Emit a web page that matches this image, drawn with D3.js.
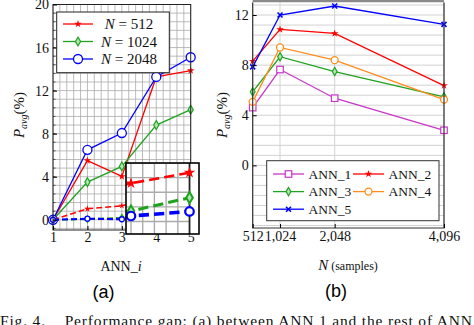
<!DOCTYPE html>
<html>
<head>
<meta charset="utf-8">
<script src="https://cdnjs.cloudflare.com/ajax/libs/d3/7.8.5/d3.min.js"></script>
<style>
  body { margin: 0; background: #fff; }
  svg { display: block; }
  .tick text { font-family: "Liberation Serif", serif; font-size: 14px; fill: #111; }
  .lbl { font-family: "Liberation Serif", serif; fill: #111; }
</style>
</head>
<body>
<div id="chart"></div>
<script>

// ---- data (a): performance gap vs ANN index
var annIdx = [1, 2, 3, 4, 5];
var gap512 = [0, 5.5, 4.03, 13.27, 13.86];
var gap1024 = [0, 3.5, 4.96, 8.8, 10.23];
var gap2048 = [0, 6.5, 8.06, 13.27, 15.1];
// dashed curves (mostly hidden under the zoom box)
var low512 = [0, 1.02, 1.3, 2.09, 2.67];
var low1024 = [0, 0.05, 0.2, 0.57, 1.3];
var low2048 = [0, 0.1, 0.05, 0.3, 0.55];
var leftYTicks = [0, 4, 8, 12, 16, 20];

// ---- data (b): performance vs number of samples
var samples = [512, 1024, 2048, 4096];
var ann1 = [4.61, 7.65, 5.36, 2.8];
var ann2 = [8.32, 10.85, 10.53, 6.37];
var ann3 = [5.87, 8.67, 7.49, 5.47];
var ann4 = [5.07, 9.41, 8.4, 5.25];
var ann5 = [7.86, 12.0, 12.72, 11.25];
var rightYTicks = [0, 4, 8, 12];

var RED = "#ff0000", GREEN = "#1fa31f", BLUE = "#0000ff", MAG = "#c837c8", ORANGE = "#ff8c1a";

var svg = d3.select("#chart").append("svg")
    .attr("width", 474)
    .attr("height", 325);

// draw one marker at (x, y)
function marker(g, type, x, y, color, s) {
    if (type == "star") {
        g.append("path")
            .attr("d", d3.symbol().type(d3.symbolStar).size(s * s * 0.28)())
            .attr("transform", "translate(" + x + "," + y + ")")
            .attr("fill", color);
    } else if (type == "circle") {
        g.append("circle").attr("cx", x).attr("cy", y).attr("r", s / 2)
            .attr("fill", "#fff").attr("stroke", color).attr("stroke-width", 1.3);
    } else if (type == "diamond") {
        var w = s * 0.32, h = s * 0.55;
        g.append("path")
            .attr("d", "M" + x + "," + (y - h) + "L" + (x + w) + "," + y + "L" + x + "," + (y + h) + "L" + (x - w) + "," + y + "Z")
            .attr("fill", "#b4e4b4").attr("stroke", color).attr("stroke-width", 1.2);
    } else if (type == "square") {
        g.append("rect").attr("x", x - s / 2).attr("y", y - s / 2).attr("width", s).attr("height", s)
            .attr("fill", "#fff").attr("stroke", color).attr("stroke-width", 1.2);
    } else if (type == "cross") {
        var d = s / 2;
        g.append("path")
            .attr("d", "M" + (x - d) + "," + (y - d) + "L" + (x + d) + "," + (y + d) + "M" + (x - d) + "," + (y + d) + "L" + (x + d) + "," + (y - d))
            .attr("stroke", color).attr("stroke-width", 1.6);
    }
}

function series(g, xs, ys, sx, sy, color, type, s, dash, lw) {
    var line = d3.line().x(function (d) { return sx(d[0]); }).y(function (d) { return sy(d[1]); });
    var pts = xs.map(function (x, i) { return [x, ys[i]]; });
    g.append("path").datum(pts)
        .attr("d", line)
        .attr("fill", "none")
        .attr("stroke", color)
        .attr("stroke-width", lw)
        .attr("stroke-dasharray", dash);
    pts.forEach(function (p) { marker(g, type, sx(p[0]), sy(p[1]), color, s); });
}

// ======================= (a) LEFT CHART
var xL = d3.scaleLinear().domain([1, 5]).range([53, 190.7]);
var yL = d3.scaleLinear().domain([-0.95, 20]).range([230, 4.5]);

var minorX = d3.range(0, 21).map(function (i) { return 1 + i * 0.2; });
var minorY = d3.range(-1, 26).map(function (i) { return i * 0.8; }).filter(function (v) { return v < 20.01; });

function leftGrid(g) {
    g.selectAll("line.gx").data(minorX).enter().append("line")
        .attr("x1", function (d) { return xL(d); }).attr("x2", function (d) { return xL(d); })
        .attr("y1", yL(-0.95)).attr("y2", yL(20))
        .attr("stroke", "#ababab").attr("stroke-width", 0.8);
    g.selectAll("line.gy").data(minorY).enter().append("line")
        .attr("x1", xL(1)).attr("x2", xL(5))
        .attr("y1", function (d) { return yL(d); }).attr("y2", function (d) { return yL(d); })
        .attr("stroke", "#ababab").attr("stroke-width", 0.8);
}

function leftDashed(g) {
    series(g, annIdx, low512, xL, yL, RED, "star", 7, "6,3", 1.5);
    series(g, annIdx, low1024, xL, yL, GREEN, "diamond", 6, "6,3", 1.8);
    series(g, annIdx, low2048, xL, yL, BLUE, "circle", 5, "6,3", 2.1);
}

var gA = svg.append("g");
leftGrid(gA);

series(gA, annIdx, gap512, xL, yL, RED, "star", 8, null, 1.3);
series(gA, annIdx, gap1024, xL, yL, GREEN, "diamond", 8, null, 1.3);
series(gA, annIdx, gap2048, xL, yL, BLUE, "circle", 9, null, 1.3);
leftDashed(gA);

// minor ticks on left axis
gA.selectAll("line.mt").data(minorY).enter().append("line")
    .attr("x1", xL(1)).attr("x2", xL(1) + 2.5)
    .attr("y1", function (d) { return yL(d); }).attr("y2", function (d) { return yL(d); })
    .attr("stroke", "#333").attr("stroke-width", 0.8);

gA.append("rect")
    .attr("x", xL(1)).attr("y", yL(20))
    .attr("width", xL(5) - xL(1)).attr("height", yL(-0.95) - yL(20))
    .attr("fill", "none").attr("stroke", "#222").attr("stroke-width", 1);

var axLy = gA.append("g").attr("transform", "translate(" + xL(1) + ",0)")
    .call(d3.axisLeft(yL).tickValues(leftYTicks).tickSizeInner(-4).tickSizeOuter(0).tickPadding(4));
axLy.select(".domain").remove();
var axLx = gA.append("g").attr("transform", "translate(0," + yL(-0.95) + ")")
    .call(d3.axisBottom(xL).tickValues(annIdx).tickFormat(d3.format("d")).tickSizeInner(-4).tickSizeOuter(0).tickPadding(2));
axLx.select(".domain").remove();

// zoomed inset (magnified copy of the bottom-right region)
var M = 1.7;
var insetX = 126, insetY = 163, insetW = 73, insetH = 71;
var tx = 131 - M * xL(4), ty = 221.5 - M * yL(0);

svg.append("clipPath").attr("id", "insetClip")
    .append("rect").attr("x", insetX).attr("y", insetY).attr("width", insetW).attr("height", insetH);

var gIn = svg.append("g").attr("clip-path", "url(#insetClip)");
gIn.append("rect").attr("x", insetX).attr("y", insetY).attr("width", insetW).attr("height", insetH).attr("fill", "#fff");
var gZoom = gIn.append("g").attr("transform", "translate(" + tx + "," + ty + ") scale(" + M + ")");
leftGrid(gZoom);
gZoom.append("line").attr("x1", xL(5)).attr("x2", xL(5)).attr("y1", yL(20)).attr("y2", yL(-0.95))
    .attr("stroke", "#222").attr("stroke-width", 1);
gZoom.append("line").attr("x1", xL(1)).attr("x2", xL(5)).attr("y1", yL(-0.95)).attr("y2", yL(-0.95))
    .attr("stroke", "#222").attr("stroke-width", 1);
leftDashed(gZoom);
svg.append("rect").attr("x", insetX).attr("y", insetY).attr("width", insetW).attr("height", insetH)
    .attr("fill", "none").attr("stroke", "#000").attr("stroke-width", 1.6);

// legend (a)
var legA = svg.append("g");
legA.append("rect").attr("x", 56.7).attr("y", 12).attr("width", 112.6).attr("height", 60.7)
    .attr("fill", "#fff").attr("stroke", "#222").attr("stroke-width", 1);
var legAItems = [
    { n: "512", c: RED, t: "star", s: 8 },
    { n: "1024", c: GREEN, t: "diamond", s: 8 },
    { n: "2048", c: BLUE, t: "circle", s: 9 }
];
legAItems.forEach(function (d, i) {
    var yy = 24 + i * 17.5;
    legA.append("line").attr("x1", 63).attr("x2", 93).attr("y1", yy).attr("y2", yy)
        .attr("stroke", d.c).attr("stroke-width", 1.3);
    marker(legA, d.t, 78, yy, d.c, d.s);
    var t = legA.append("text").attr("class", "lbl").attr("x", 129).attr("y", yy + 5)
        .attr("text-anchor", "middle").style("font-size", "15px");
    t.append("tspan").style("font-style", "italic").text("N");
    t.append("tspan").text(" = " + d.n);
});

// axis titles (a)
var ylA = svg.append("text").attr("class", "lbl")
    .attr("transform", "translate(24,115) rotate(-90)")
    .attr("text-anchor", "middle").style("font-size", "15px");
ylA.append("tspan").style("font-style", "italic").text("P");
ylA.append("tspan").style("font-style", "italic").style("font-size", "10px").attr("dy", 3).text("avg");
ylA.append("tspan").attr("dy", -3).text("(%)");

var xlA = svg.append("text").attr("class", "lbl").attr("x", 121).attr("y", 271)
    .attr("text-anchor", "middle").style("font-size", "14px");
xlA.append("tspan").text("ANN_");
xlA.append("tspan").style("font-style", "italic").text("i");

svg.append("text").attr("x", 103.5).attr("y", 298).attr("text-anchor", "middle")
    .style("font-family", "'Liberation Sans', Arial, sans-serif").style("font-size", "18px").text("(a)");

// ======================= (b) RIGHT CHART
var xR = d3.scaleLinear().domain([512, 4096]).range([252.7, 444]);
var yR = d3.scaleLinear().domain([-5, 13]).range([228, 2.5]);

var gB = svg.append("g");
var minorYR = d3.range(-6, 17).map(function (i) { return i * 0.8; }).filter(function (v) { return v > -5 && v < 13; });
gB.selectAll("line.gy").data(minorYR).enter().append("line")
    .attr("x1", xR(512)).attr("x2", xR(4096))
    .attr("y1", function (d) { return yR(d); }).attr("y2", function (d) { return yR(d); })
    .attr("stroke", "#d2d2d2").attr("stroke-width", 1);
gB.selectAll("line.gx").data(samples).enter().append("line")
    .attr("x1", function (d) { return xR(d); }).attr("x2", function (d) { return xR(d); })
    .attr("y1", yR(-5)).attr("y2", yR(13))
    .attr("stroke", "#d2d2d2").attr("stroke-width", 1);

var rightSeries = [
    { name: "ANN_1", v: ann1, c: MAG, t: "square", s: 6.5 },
    { name: "ANN_2", v: ann2, c: RED, t: "star", s: 8 },
    { name: "ANN_3", v: ann3, c: GREEN, t: "diamond", s: 7.5 },
    { name: "ANN_4", v: ann4, c: ORANGE, t: "circle", s: 7 },
    { name: "ANN_5", v: ann5, c: BLUE, t: "cross", s: 5 }
];
rightSeries.forEach(function (d) {
    series(gB, samples, d.v, xR, yR, d.c, d.t, d.s, null, 1.3);
});

// frame (b)
gB.append("line").attr("x1", xR(512)).attr("x2", xR(4096)).attr("y1", 1).attr("y2", 1)
    .attr("stroke", "#8a8a8a").attr("stroke-width", 2.5);
gB.append("path")
    .attr("d", "M" + xR(512) + "," + yR(13) + "V" + yR(-5) + "H" + xR(4096) + "V" + yR(13))
    .attr("fill", "none").attr("stroke", "#333").attr("stroke-width", 1.2);

var axRy = gB.append("g").attr("transform", "translate(" + xR(512) + ",0)")
    .call(d3.axisLeft(yR).tickValues(rightYTicks).tickSizeInner(-4).tickSizeOuter(0).tickPadding(4));
axRy.select(".domain").remove();
var axRx = gB.append("g").attr("transform", "translate(0," + yR(-5) + ")")
    .call(d3.axisBottom(xR).tickValues(samples).tickFormat(d3.format(",")).tickSizeInner(-4).tickSizeOuter(0).tickPadding(3));
axRx.select(".domain").remove();

// legend (b)
var legB = svg.append("g");
legB.append("rect").attr("x", 266.7).attr("y", 160.7).attr("width", 172.3).attr("height", 60)
    .attr("fill", "#fff").attr("stroke", "#333").attr("stroke-width", 1);
rightSeries.forEach(function (d, i) {
    var col = i % 2, row = Math.floor(i / 2);
    var x0 = col == 0 ? 273 : 353;
    var yy = 174 + row * 17.6;
    legB.append("line").attr("x1", x0).attr("x2", x0 + 31).attr("y1", yy).attr("y2", yy)
        .attr("stroke", d.c).attr("stroke-width", 1.3);
    marker(legB, d.t, x0 + 15.5, yy, d.c, d.s);
    legB.append("text").attr("class", "lbl").attr("x", x0 + 35.5).attr("y", yy + 4.5)
        .style("font-size", "13.5px").text(d.name);
});

// axis titles (b)
var ylB = svg.append("text").attr("class", "lbl")
    .attr("transform", "translate(227,115) rotate(-90)")
    .attr("text-anchor", "middle").style("font-size", "15px");
ylB.append("tspan").style("font-style", "italic").text("P");
ylB.append("tspan").style("font-style", "italic").style("font-size", "10px").attr("dy", 3).text("avg");
ylB.append("tspan").attr("dy", -3).text("(%)");

var xlB = svg.append("text").attr("class", "lbl").attr("x", 348).attr("y", 270)
    .attr("text-anchor", "middle");
xlB.append("tspan").style("font-style", "italic").style("font-size", "15px").text("N");
xlB.append("tspan").style("font-size", "12px").text(" (samples)");

svg.append("text").attr("x", 336).attr("y", 297).attr("text-anchor", "middle")
    .style("font-family", "'Liberation Sans', Arial, sans-serif").style("font-size", "18px").text("(b)");

// caption (cut off at the bottom, as in the source)
svg.append("text").attr("class", "lbl").attr("x", 0).attr("y", 326)
    .attr("textLength", 472).attr("lengthAdjust", "spacing")
    .style("font-size", "15.5px")
    .text("Fig. 4.\u00a0\u00a0\u00a0\u00a0Performance gap: (a) between ANN 1 and the rest of ANN");

</script>
</body>
</html>
